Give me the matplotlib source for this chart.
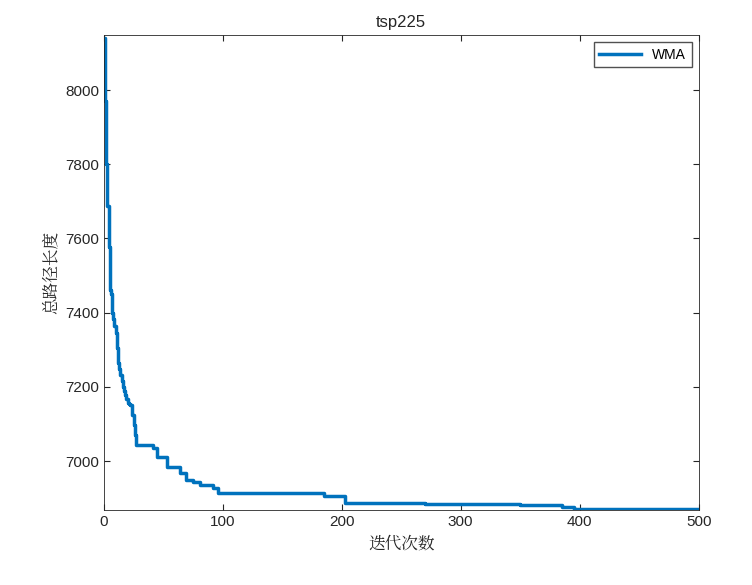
import matplotlib
matplotlib.use("Agg")
import matplotlib.pyplot as plt
import numpy as np

gens = [0, 2, 3.6, 5, 6, 7, 10, 12, 16, 20, 23, 27, 41, 45, 49, 53, 61, 64, 69, 75, 81, 92, 96, 185, 203, 270, 350, 385, 395, 500]
vals = [8140, 7800, 7622, 7461, 7450, 7400, 7345, 7264, 7200, 7156, 7150, 7043, 7035, 7011, 7011, 6985, 6985, 6968, 6949, 6945, 6935, 6927, 6914, 6905, 6887, 6884, 6882, 6877, 6872, 6872]

x = np.arange(0, 501)
y = np.array([vals[np.searchsorted(gens, g, side='right') - 1] if g not in (0, 2, 3.6) else vals[gens.index(g)] for g in x], dtype=float)
# smooth early drop with listed points
early = np.interp(x[:28], gens[:12], vals[:12])
y[:28] = np.minimum(early, y[:28]) if False else early

plt.rcParams['font.family'] = ['Liberation Sans', 'Noto Sans CJK SC']
fig = plt.figure(figsize=(7.52, 5.85), dpi=100)
ax = fig.add_axes([0.138, 0.128, 0.791, 0.812])
ax.plot(x, y, color='#0072BD', lw=2.5, label='WMA', drawstyle='steps-post')
ax.set_xlim(0, 500)
ax.set_ylim(6868, 8148)
ax.set_xticks([0, 100, 200, 300, 400, 500])
ax.set_yticks([7000, 7200, 7400, 7600, 7800, 8000])
ax.tick_params(direction='in', labelsize=11, colors='#262626', top=True, right=True, length=4)
for s in ax.spines.values():
    s.set_color('#262626'); s.set_linewidth(0.6)
ax.set_title('tsp225', fontsize=12, color='#262626')
ax.set_xlabel('迭代次数', fontsize=12, family=['Noto Serif CJK SC', 'Noto Sans CJK SC'], color='#262626')
ax.set_ylabel('总路径长度', fontsize=12, family=['Noto Serif CJK SC', 'Noto Sans CJK SC'], color='#262626')
ax.legend(loc='upper right', fontsize=10, fancybox=False, edgecolor='#262626', handlelength=3)
fig.savefig('out.png', dpi=100)
